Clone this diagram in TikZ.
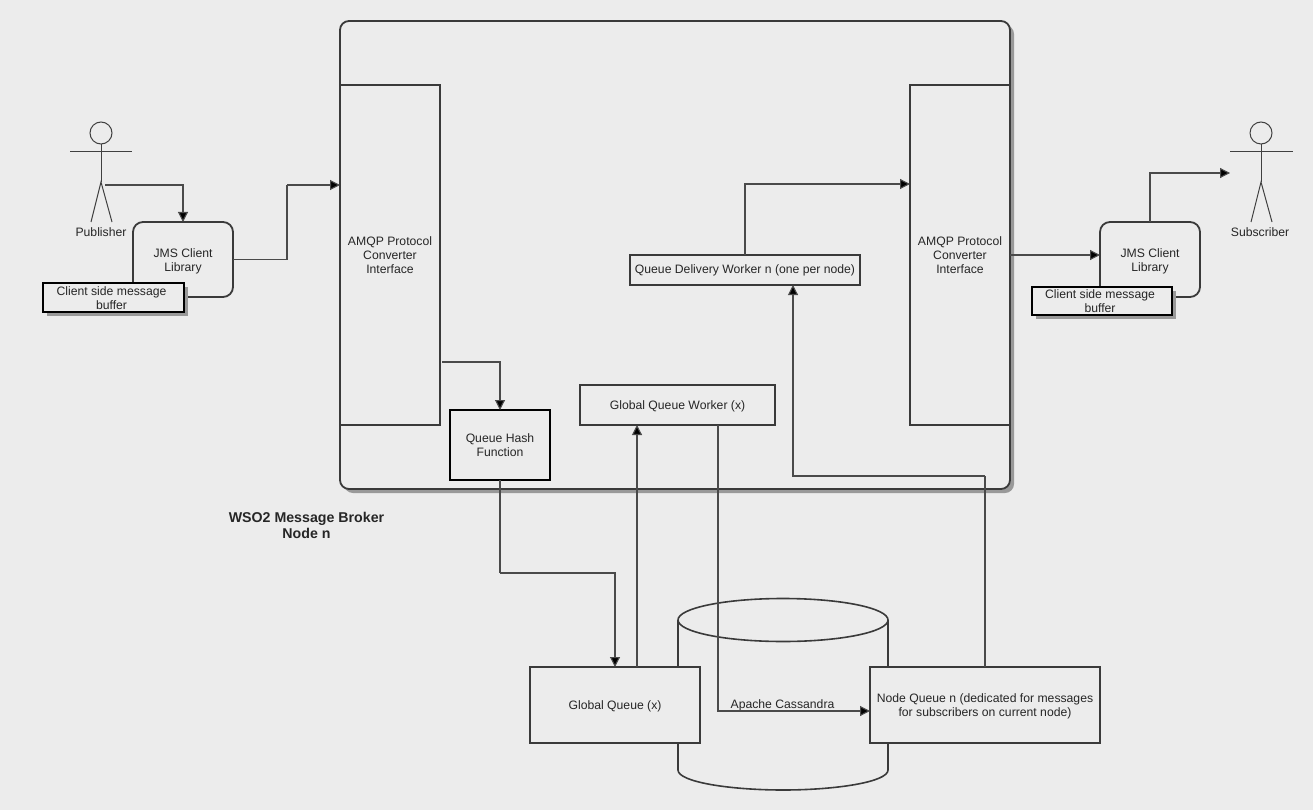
\documentclass[tikz,border=0pt]{standalone}
\usepackage{fontspec}
\setmainfont{Liberation Sans}
\usetikzlibrary{arrows.meta,shadows,positioning}
\definecolor{bgc}{HTML}{ECECEC}
\definecolor{linec}{HTML}{3A3A3A}
\definecolor{connc}{HTML}{4A4A4A}
\definecolor{shadc}{HTML}{999999}
\newcommand{\dnstrut}[1]{\rule{0pt}{#1pt}}
\tikzset{
  every node/.style={font=\fontsize{12.2}{14}\selectfont,text=black!85,align=center,inner sep=0pt,outer sep=0pt},
  box/.style={draw=linec,line width=1.6pt,fill=bgc},
  strongbox/.style={draw=black,line width=2pt,fill=bgc},
  lib/.style={draw=linec,line width=1.8pt,fill=bgc,rounded corners=10pt},
  buffer/.style={strongbox,drop shadow={shadow xshift=4pt,shadow yshift=-4pt,fill=shadc,opacity=1}},
  conn/.style={draw=connc,line width=1.1pt},
  arr/.style={conn,-{Triangle[length=10pt,width=10pt,fill=black]}},
  actor/.style={draw=black!75,line width=1pt},
  dbline/.style={draw=linec,line width=1.6pt},
}
\begin{document}
\begin{tikzpicture}[x=1pt,y=-1pt]
\path[fill=bgc] (0,0) rectangle (1313,810);
\useasboundingbox (0,0) rectangle (1313,810);

% broker container
\node[draw=linec,line width=1.8pt,fill=bgc,rounded corners=9pt,minimum width=670pt,minimum height=468pt,
  drop shadow={shadow xshift=4pt,shadow yshift=-4pt,fill=shadc,opacity=1}] (broker) at (675,255) {};
\node[font=\fontsize{14.2}{16}\selectfont\bfseries] (title) at (306.5,525) {WSO2 Message Broker\\Node n};

% database cylinder
\draw[dbline,fill=bgc] (678,620) -- (678,770) .. controls (678,782) and (730,790) .. (783,790) .. controls (836,790) and (888,782) .. (888,770) -- (888,620);
\draw[dbline,fill=bgc] (783,620) ellipse [x radius=105,y radius=21.5];
\node (cass) at (782.5,705) {Apache Cassandra};

% boxes
\node[box,minimum width=100pt,minimum height=340pt] (amqpL) at (390,255) {AMQP Protocol\\Converter\\Interface};
\node[box,minimum width=100pt,minimum height=340pt] (amqpR) at (960,255) {AMQP Protocol\\Converter\\Interface};
\node[strongbox,minimum width=100pt,minimum height=70pt] (hash) at (500,445) {Queue Hash\\Function};
\node[box,minimum width=195pt,minimum height=40pt] (gqw) at (677.5,405) {\dnstrut{11}Global Queue Worker (x)};
\node[box,minimum width=230pt,minimum height=30pt] (qdw) at (745,270) {Queue Delivery Worker n (one per node)};
\node[box,minimum width=170pt,minimum height=76pt] (gq) at (615,705) {\dnstrut{11}Global Queue (x)};
\node[box,minimum width=230pt,minimum height=76pt] (nq) at (985,705) {\dnstrut{11}Node Queue n (dedicated for messages\\for subscribers on current node)};

% client libraries
\node[lib,minimum width=100pt,minimum height=75pt] (jmsL) at (183,259.5) {\dnstrut{12}JMS Client\\Library};
\node[lib,minimum width=100pt,minimum height=75pt] (jmsR) at (1150,259.5) {\dnstrut{12}JMS Client\\Library};
\node[buffer,minimum width=140.5pt,minimum height=29pt] (bufL) at (113.3,297.5) {};
\node (bufLt) at (111.5,298.2) {Client side message\\buffer};
\node[buffer,minimum width=140pt,minimum height=28pt] (bufR) at (1102,301) {};
\node (bufRt) at (1100,301) {Client side message\\buffer};

% publisher actor
\node[draw=black!75,line width=1pt,circle,minimum size=22pt] (pubHead) at (101,133) {};
\coordinate (pubArmL) at (70,152);
\coordinate (pubArmR) at (132,152);
\coordinate (pubHip) at (101,182);
\coordinate (pubFootL) at (91,222);
\coordinate (pubFootR) at (112,222);
\draw[actor] (pubHead) -- (pubHip);
\draw[actor] (pubArmL) -- (pubArmR);
\draw[actor] (pubFootL) -- (pubHip) -- (pubFootR);
\node (pub) at (101,232) {Publisher};

% subscriber actor
\node[draw=black!75,line width=1pt,circle,minimum size=22pt] (subHead) at (1261,133) {};
\coordinate (subArmL) at (1230,152);
\coordinate (subArmR) at (1293,152);
\coordinate (subHip) at (1261,182);
\coordinate (subFootL) at (1251,222);
\coordinate (subFootR) at (1272,222);
\draw[actor] (subHead) -- (subHip);
\draw[actor] (subArmL) -- (subArmR);
\draw[actor] (subFootL) -- (subHip) -- (subFootR);
\node (sub) at (1260,232) {Subscriber};

% connector anchors
\coordinate (pubOut) at (105,185);
\coordinate (a1) at (287,259.5);
\coordinate (a2) at (287,185);
\coordinate (amqpLin) at (340,185);
\coordinate (amqpLout) at (442,362);
\coordinate (gqIn) at (615,667);
\coordinate (hOut) at (500,573);
\coordinate (gqOut) at (637,667);
\coordinate (gqwIn) at (637,425);
\coordinate (gqwOut) at (718,425);
\coordinate (nqIn) at (870,711);
\coordinate (nqOut) at (985,667);
\coordinate (nqBend) at (985,476);
\coordinate (qdwIn) at (793,285);
\coordinate (amqpRin) at (910,184);
\coordinate (amqpRout) at (1010,255);
\coordinate (jmsRin) at (1100,255);
\coordinate (subIn) at (1230,173);

% connectors
\draw[arr] (pubOut) -| (jmsL.north);
\draw[conn] (jmsL.east) -- (a1) -- (a2);
\draw[arr] (a2) -- (amqpLin);
\draw[arr] (amqpLout) -| (hash.north);
\draw[conn] (hash.south) -- (hOut);
\draw[arr] (hOut) -| (gqIn);
\draw[arr] (gqOut) -- (gqwIn);
\draw[arr] (gqwOut) |- (nqIn);
\draw[conn] (nqOut) -- (nqBend);
\draw[arr] (nqBend) -| (qdwIn);
\draw[arr] (qdw.north) |- (amqpRin);
\draw[arr] (amqpRout) -- (jmsRin);
\draw[arr] (jmsR.north) |- (subIn);
\end{tikzpicture}
\end{document}
